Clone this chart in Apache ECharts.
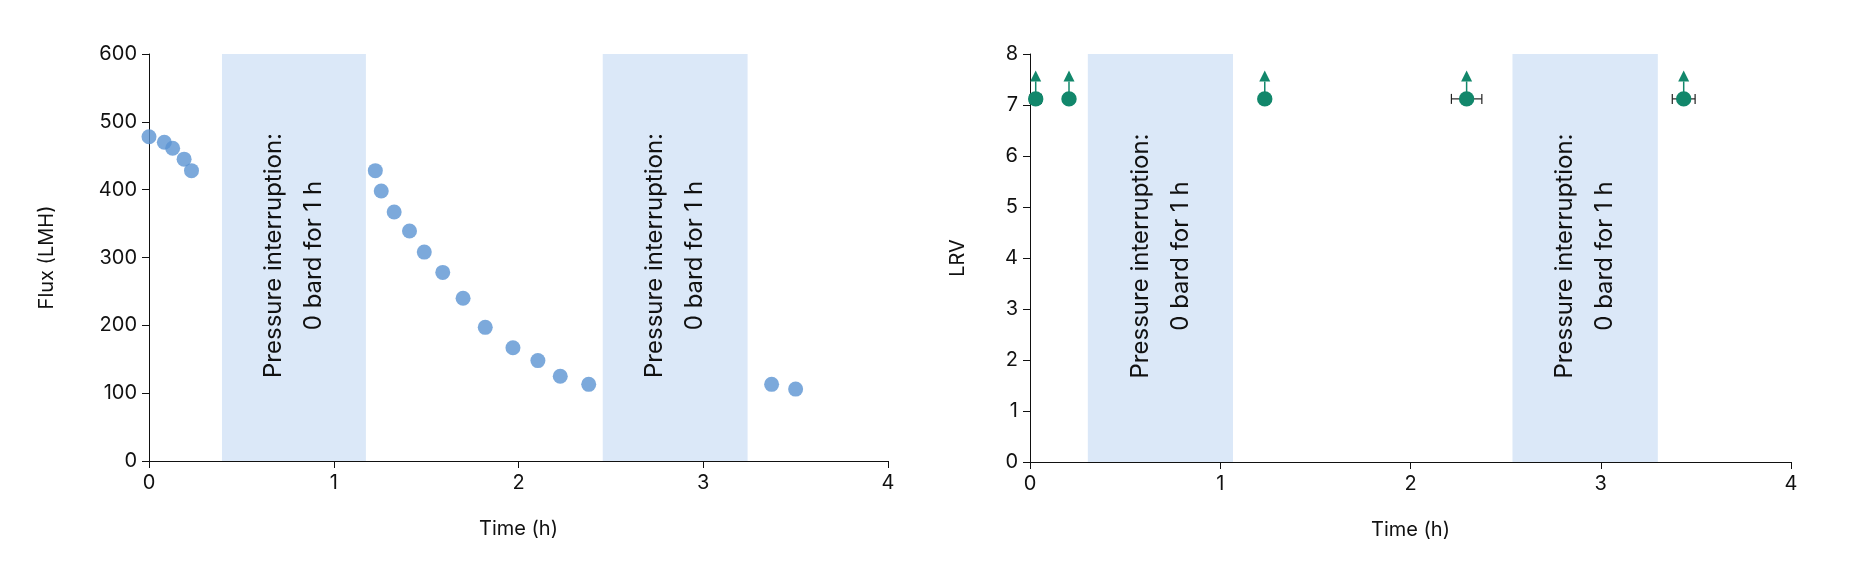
<!DOCTYPE html>
<html><head><meta charset="utf-8">
<script src="https://cdn.jsdelivr.net/npm/echarts@6/dist/echarts.min.js"></script>
<style>html,body{margin:0;background:#fff}#c{width:1850px;height:580px}</style>
</head><body><div id="c"></div>
<script>
const fluxTime = [0,0.083,0.128,0.19,0.23,1.225,1.257,1.327,1.41,1.49,1.59,1.70,1.82,1.97,2.105,2.226,2.38,3.37,3.50];
const fluxVal  = [478,470,461,445,428,428,398,367,339,308,278,240,197,167,148,125,113,113,106];
const lrvTime  = [0.03,0.205,1.234,2.295,3.436];
const lrvVal   = [7.12,7.12,7.12,7.12,7.12];
const lrvXerr  = [0.03,0,0,0.08,0.06];
const lrvArrowTop = 7.6;
const bandsLeft  = [[0.395,1.174],[2.456,3.24]];
const bandsRight = [[0.304,1.067],[2.536,3.30]];
const bandText = 'Pressure interruption:\n0 bard for 1 h';

const font = 'Inter, Roboto, sans-serif';
function bandSeries(bands, xi, yi, ymax){
  return {type:'custom', xAxisIndex:xi, yAxisIndex:yi, z:0, silent:true,
    data: bands.map(b=>[b[0],b[1]]),
    renderItem(p, api){
      const a = api.coord([api.value(0), ymax]);
      const b = api.coord([api.value(1), 0]);
      const cx=(a[0]+b[0])/2, cy=(a[1]+b[1])/2-2;
      return {type:'group', children:[
        {type:'rect', shape:{x:a[0],y:a[1],width:b[0]-a[0],height:b[1]-a[1]}, style:{fill:'#dbe8f8'}},
        {type:'text', x:cx, y:cy, rotation:Math.PI/2,
         style:{text:bandText, fill:'#111', font:'24px '+font, align:'center', verticalAlign:'middle', lineHeight:40}}
      ]};
    }};
}
function xAx(gi){return {type:'value', gridIndex:gi, min:0, max:4, interval:1, name:'Time (h)', nameLocation:'middle', nameGap:58,
  nameTextStyle:{fontSize:20,color:'#111',fontFamily:font},
  axisLine:{lineStyle:{color:'#111'}}, axisTick:{lineStyle:{color:'#111'},length:7},
  axisLabel:{fontSize:20,color:'#111',fontFamily:font,margin:12}, splitLine:{show:false}};}
function yAx(gi,max,iv,name,gap){return {type:'value', gridIndex:gi, min:0, max:max, interval:iv, name:name, nameLocation:'middle', nameGap:gap,
  nameTextStyle:{fontSize:20,color:'#111',fontFamily:font},
  axisLine:{show:true,lineStyle:{color:'#111'}}, axisTick:{show:true,lineStyle:{color:'#111'},length:7},
  axisLabel:{fontSize:20,color:'#111',fontFamily:font,margin:12}, splitLine:{show:false}};}

const green='#12876b';
const chart = echarts.init(document.getElementById('c'));
chart.setOption({
  animation:false,
  grid:[{left:149,right:962,top:54,bottom:119},{left:1030,right:59,top:54,bottom:118}],
  xAxis:[xAx(0),xAx(1)],
  yAxis:[yAx(0,600,100,'Flux (LMH)',92),yAx(1,8,1,'LRV',62)],
  series:[
    bandSeries(bandsLeft,0,0,600),
    bandSeries(bandsRight,1,1,8),
    {type:'scatter', xAxisIndex:0, yAxisIndex:0, symbolSize:15, z:3,
     itemStyle:{color:'#5b93d2'}, data:fluxTime.map((t,i)=>[t,fluxVal[i]])},
    {type:'custom', xAxisIndex:1, yAxisIndex:1, z:4,
     data: lrvTime.map((t,i)=>[t,lrvVal[i],lrvXerr[i]]),
     renderItem(p, api){
       const x=api.value(0), y=api.value(1), e=api.value(2);
       const c=api.coord([x,y]), top=api.coord([x,lrvArrowTop]);
       const l=api.coord([x-e,y]), r=api.coord([x+e,y]);
       const ch=[];
       ch.push({type:'line',shape:{x1:c[0],y1:c[1],x2:top[0],y2:top[1]+7},style:{stroke:green,lineWidth:1.5}});
       ch.push({type:'polygon',shape:{points:[[top[0],top[1]-4],[top[0]-5.5,top[1]+7],[top[0]+5.5,top[1]+7]]},style:{fill:green}});
       if(e>0){
         ch.push({type:'line',shape:{x1:l[0],y1:c[1],x2:r[0],y2:c[1]},style:{stroke:'#222',lineWidth:1.2}});
         ch.push({type:'line',shape:{x1:l[0],y1:c[1]-5,x2:l[0],y2:c[1]+5},style:{stroke:'#222',lineWidth:1.2}});
         ch.push({type:'line',shape:{x1:r[0],y1:c[1]-5,x2:r[0],y2:c[1]+5},style:{stroke:'#222',lineWidth:1.2}});
       }
       ch.push({type:'circle',shape:{cx:c[0],cy:c[1],r:7.7},style:{fill:green}});
       return {type:'group',children:ch};
     }}
  ]
});
</script></body></html>
